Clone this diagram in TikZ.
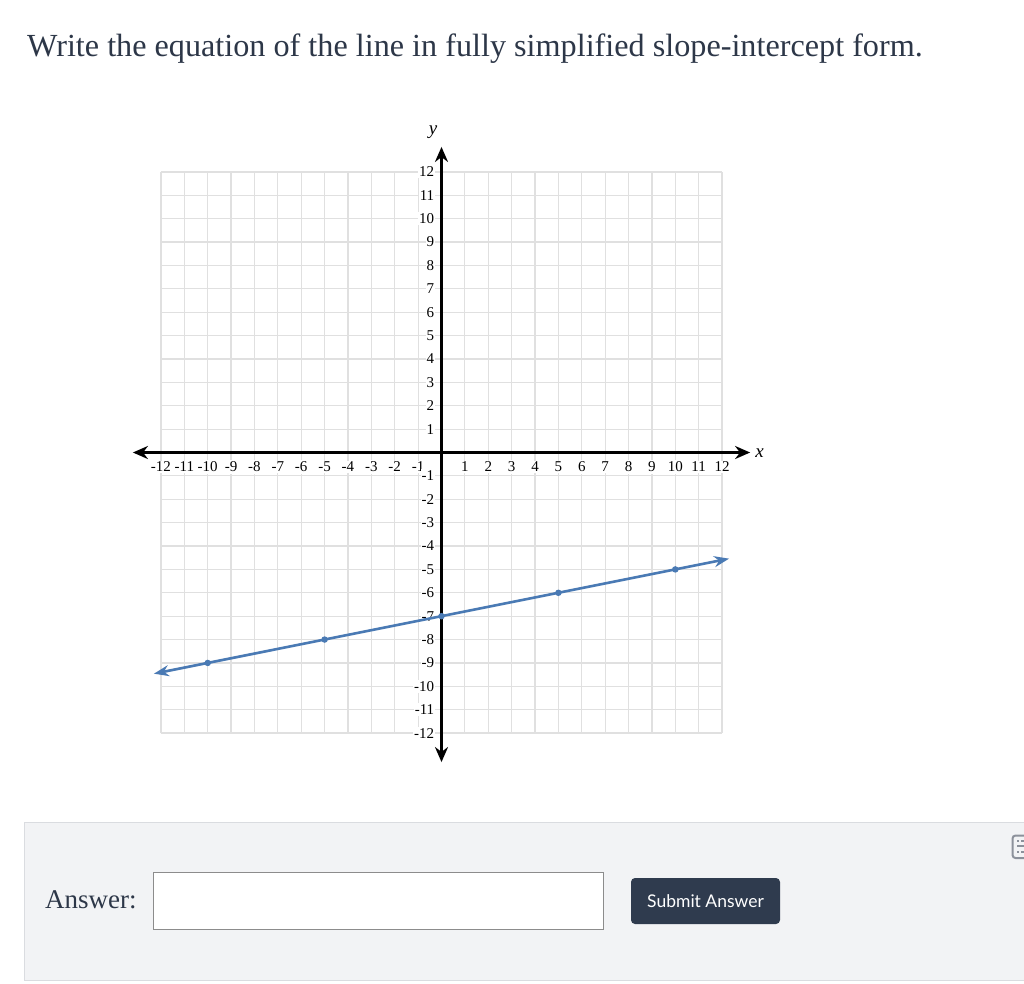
\documentclass[tikz,border=0pt]{standalone}
\usepackage{fontspec}
\setmainfont{Liberation Serif}
\newfontfamily\latofont{Lato}
\usetikzlibrary{arrows.meta}
\definecolor{ink}{RGB}{45,55,72}
\definecolor{gridc}{RGB}{224,224,224}
\definecolor{lineblue}{RGB}{74,122,180}
\definecolor{panelfill}{RGB}{242,243,245}
\definecolor{panelborder}{RGB}{218,220,224}
\definecolor{btn}{RGB}{47,59,78}
\definecolor{iconc}{RGB}{140,145,155}
\definecolor{boxborder}{RGB}{140,140,140}
\tikzset{
  ticklbl/.style={fill=white, inner xsep=1.5pt, inner ysep=1.5pt, text=black, font=\fontsize{15}{17}\selectfont},
  axisline/.style={line width=2.6pt, black, {Stealth[length=15pt,width=13pt]}-{Stealth[length=15pt,width=13pt]}},
  bline/.style={line width=2.6pt, lineblue, {Stealth[length=15pt,width=11pt]}-{Stealth[length=15pt,width=11pt]}},
  dot/.style={circle, fill=lineblue, inner sep=0pt, minimum size=6.5pt},
  axlbl/.style={font=\itshape\fontsize{19}{21}\selectfont, text=black, inner sep=0pt},
  gridline/.style={gridc, line width=1.2pt},
}
\begin{document}
\begin{tikzpicture}[x=1pt,y=-1pt]
\useasboundingbox (0,0) rectangle (1024,983);
\fill[white] (0,0) rectangle (1024,983);
% title
\node[anchor=base west, inner sep=0pt, text=ink, font=\fontsize{32.2}{38}\selectfont] (title) at (27,56)
  {Write the equation of the line in fully simplified slope-intercept form.};
% graph
\begin{scope}[shift={(441.5,452.5)}, x=23.38pt, y=23.38pt]
  \foreach \k in {-12,...,12} {
    \draw[gridline] (\k,-12) -- (\k,12);
    \draw[gridline] (-12,\k) -- (12,\k);
  }
  \foreach \i in {1,...,12} {
    \node[ticklbl] (xp\i) at (\i,-0.62) {\i};
    \node[ticklbl] (xn\i) at (-\i,-0.62) {-\i};
  }
  \foreach \i in {1,...,12} {
    \node[ticklbl, anchor=east, inner xsep=1pt] (yp\i) at (-0.26,\i) {\i};
    \node[ticklbl, anchor=east, inner xsep=1pt] (yn\i) at (-0.26,-\i) {-\i};
  }
  \coordinate (xl) at (-13.2,0);
  \coordinate (xr) at (13.2,0);
  \coordinate (yt) at (0,13.07);
  \coordinate (yb) at (0,-13.24);
  \draw[axisline] (xl) -- (xr);
  \draw[axisline] (yb) -- (yt);
  \node[axlbl] (xlab) at (13.6,-0.02) {x};
  \node[axlbl] (ylab) at (-0.36,13.7) {y};
  \coordinate (le) at (-12.3,-9.46);
  \coordinate (re) at (12.3,-4.54);
  \draw[bline] (le) -- (re);
  \foreach \x in {-10,-5,0,5,10} {
    \node[dot] (p\x) at (\x,{\x/5-7}) {};
  }
\end{scope}
% answer panel
\draw[panelborder, fill=panelfill, line width=1pt] (24,822) rectangle (1030,980);
\node[anchor=base west, inner sep=0pt, text=ink, font=\fontsize{27}{31}\selectfont] (ans) at (45,908) {Answer:};
\draw[boxborder, fill=white, line width=1pt] (153,872) rectangle (603,929);
\node[fill=btn, rounded corners=4pt, minimum width=149pt, minimum height=46pt, text=white,
      font=\latofont\fontsize{17.5}{20}\selectfont] (submit) at (705.5,901) {Submit Answer};
% keyboard icon (cut off)
\draw[iconc, line width=2pt, rounded corners=3pt] (1012.5,835.5) rectangle (1036,858);
\foreach \yy in {840.7,851.7} {
  \fill[iconc] (1016.5,\yy-1.2) rectangle (1018.8,\yy+1.2);
  \fill[iconc] (1021.2,\yy-1.2) rectangle (1023.5,\yy+1.2);
}
\fill[iconc] (1016.5,845) rectangle (1024,847.3);
\end{tikzpicture}
\end{document}
